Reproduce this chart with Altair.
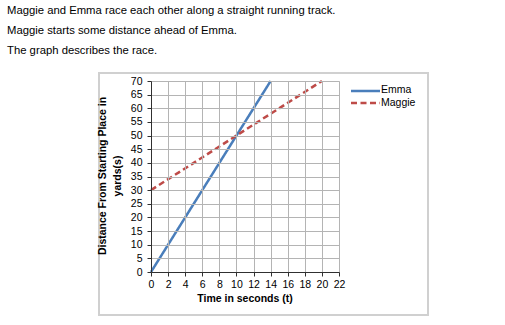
import altair as alt
import pandas as pd

# Data
runners = ["Emma", "Emma", "Maggie", "Maggie"]
times = [0, 14, 0, 20]
distances = [0, 70, 30, 70]
series_names = ["Emma", "Maggie"]
series_colors = ["#4a7ebb", "#be4b48"]
series_dashes = [[1, 0], [6, 3.5]]
intro_lines = [
    "Maggie and Emma race each other along a straight running track.",
    "Maggie starts some distance ahead of Emma.",
    "The graph describes the race.",
]
x_title_text = "Time in seconds (t)"
y_title_lines = ["Distance From Starting Place in", "yards(s)"]
x_ticks = list(range(0, 23, 2))
y_ticks = list(range(0, 71, 5))

df = pd.DataFrame({"runner": runners, "t": times, "s": distances})
intro = pd.DataFrame({"line": intro_lines, "i": [0, 1, 2]})
legend_df = pd.DataFrame({"runner": series_names, "i": [0, 1]})

FONT = "Liberation Sans"
color_scale = alt.Scale(domain=series_names, range=series_colors)
dash_scale = alt.Scale(domain=series_names, range=series_dashes)

axis_common = dict(title=None, grid=True, gridColor="#b4b4b4", gridWidth=1,
                   domainColor="#303030", tickColor="#303030", tickSize=4,
                   labelFont=FONT, labelFontSize=10.5, labelColor="#000",
                   labelOverlap=False, labelFlush=False, zindex=1)

frame = alt.Chart(pd.DataFrame({"a": [0]})).mark_rect(
    fill="white", fillOpacity=0, stroke="#d0d0d0", strokeWidth=2
).encode(x=alt.value(-52), x2=alt.value(277), y=alt.value(-8), y2=alt.value(234))

lines = alt.Chart(df).mark_line(strokeWidth=2.5).encode(
    x=alt.X("t:Q", scale=alt.Scale(domain=[0, 22], nice=False),
            axis=alt.Axis(values=x_ticks, labelPadding=3, **axis_common)),
    y=alt.Y("s:Q", scale=alt.Scale(domain=[0, 70], nice=False),
            axis=alt.Axis(values=y_ticks, labelPadding=5, **axis_common)),
    color=alt.Color("runner:N", scale=color_scale, legend=None),
    strokeDash=alt.StrokeDash("runner:N", scale=dash_scale, legend=None),
)

legend_lines = alt.Chart(legend_df).mark_rule(strokeWidth=2.5).encode(
    x=alt.value(200), x2=alt.value(229),
    y=alt.Y("i:Q", scale=alt.Scale(domain=[0, 1], range=[10, 22]), axis=None),
    color=alt.Color("runner:N", scale=color_scale, legend=None),
    strokeDash=alt.StrokeDash("runner:N", scale=dash_scale, legend=None),
)
legend_text = alt.Chart(legend_df).mark_text(
    align="left", baseline="middle", font=FONT, fontSize=10.5, color="#000"
).encode(
    x=alt.value(230),
    y=alt.Y("i:Q", scale=alt.Scale(domain=[0, 1], range=[9, 22]), axis=None),
    text="runner:N",
)

intro_text = alt.Chart(intro).mark_text(
    align="left", baseline="middle", font=FONT, fontSize=11.3, color="#000"
).encode(
    x=alt.value(-144),
    y=alt.Y("i:Q", scale=alt.Scale(domain=[0, 2], range=[-70, -30]), axis=None),
    text="line:N",
)

x_title = alt.Chart(pd.DataFrame({"t": [x_title_text]})).mark_text(
    font=FONT, fontSize=10.5, fontWeight="bold", color="#000", baseline="middle"
).encode(x=alt.value(94), y=alt.value(218), text="t:N")

y_title = alt.Chart(pd.DataFrame({"t": y_title_lines, "i": [0, 1]})).mark_text(
    font=FONT, fontSize=10.5, fontWeight="bold", color="#000", baseline="middle",
    angle=270
).encode(
    x=alt.X("i:Q", scale=alt.Scale(domain=[0, 1], range=[-48, -33]), axis=None),
    y=alt.value(95), text="t:N")

chart = alt.layer(frame, lines, legend_lines, legend_text, intro_text, x_title,
                  y_title).resolve_scale(
    y="independent", x="independent"
).properties(
    width=188, height=191,
    autosize=alt.AutoSizeParams(type="none"),
    padding={"left": 151, "top": 81, "right": 166, "bottom": 53},
).configure_view(stroke=None).configure(background="white")

chart.save("out.html", embed_options={"renderer": "svg", "actions": False})
